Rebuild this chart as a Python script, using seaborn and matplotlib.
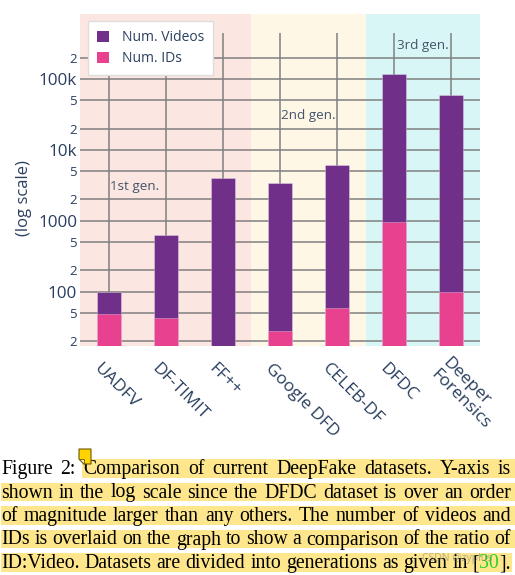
import numpy as np
import pandas as pd
import matplotlib
matplotlib.use("Agg")
import matplotlib.pyplot as plt
import matplotlib.transforms as mtransforms
from matplotlib.patches import Patch, Rectangle, Polygon
from matplotlib.font_manager import FontProperties
import seaborn as sns

# values (log scale)
datasets = ["UADFV", "DF-TIMIT", "FF++", "Google DFD", "CELEB-DF", "DFDC", "Deeper\nForensics"]
num_videos = [98, 640, 4000, 3400, 6100, 119000, 60000]
num_ids = [49, 43, np.nan, 28, 59, 960, 100]

gen_names = ["1st gen.", "2nd gen.", "3rd gen."]
gen_first = [0, 3, 5]
gen_last = [2, 4, 6]
gen_label_x = [0.03, 3.01, 5.04]
gen_label_y = [3000, 31000, 293000]

major_ticks = [100, 1000, 10000, 100000]
major_labels = ["100", "1000", "10k", "100k"]
minor_ticks = [20, 50, 200, 500, 2000, 5000, 20000, 50000, 200000]
minor_labels = ["2", "5", "2", "5", "2", "5", "2", "5", "2"]

caption_lines = [
    "Figure 2: Comparison of current DeepFake datasets. Y-axis is",
    "shown in the log scale since the DFDC dataset is over an order",
    "of magnitude larger than any others. The number of videos and",
    "IDs is overlaid on the graph to show a comparison of the ratio of",
    "ID:Video. Datasets are divided into generations as given in [30].",
]

W, H = 515, 575
purple = "#70308a"
pink = "#e8418f"
gen_colors = ["#fce6e1", "#fff7e6", "#d9f6f6"]
tick_col = "#2a3f5f"
highlight = "#fde68c"

sns.set_theme(style="white")
plt.rcParams["font.family"] = ["Open Sans", "DejaVu Sans"]

fig = plt.figure(figsize=(W / 100, H / 100), dpi=100)
ax = fig.add_axes([80 / W, 229 / H, 400 / W, 313 / H])

df = pd.DataFrame({"dataset": datasets, "videos": num_videos, "ids": num_ids})

ax.set_yscale("log")
sns.barplot(data=df, x="dataset", y="videos", order=datasets, color=purple,
            saturation=1, width=0.42, errorbar=None, ax=ax,
            edgecolor=(1, 1, 1, 0.35), linewidth=0.6)
sns.barplot(data=df, x="dataset", y="ids", order=datasets, color=pink,
            saturation=1, width=0.42, errorbar=None, ax=ax,
            edgecolor=(1, 1, 1, 0.35), linewidth=0.6)

ax.set_xlim(-0.5, len(datasets) - 0.5)
ax.set_ylim(17.1, 446000)

# generation background bands (reach a bit above the plot area)
for lo, hi, col in zip(gen_first, gen_last, gen_colors):
    ax.axvspan(lo - 0.5, hi + 0.5, ymin=0, ymax=332 / 313, color=col, lw=0,
               zorder=0, clip_on=False)
for name, gx, gy in zip(gen_names, gen_label_x, gen_label_y):
    ax.text(gx, gy, name, fontsize=9.7, color="#44546a", ha="left", va="center", zorder=3)

ax.set_yticks(major_ticks, major_labels)
ax.set_yticks(minor_ticks, minor_labels, minor=True)
ax.grid(True, which="both", color=(0.5, 0.5, 0.5, 0.22), lw=1.1)
ax.set_axisbelow(True)
for s in ax.spines.values():
    s.set_visible(False)
ax.tick_params(axis="y", which="major", labelsize=12.3, pad=2, length=0, colors=tick_col)
ax.tick_params(axis="y", which="minor", labelsize=9.5, pad=2, length=0, colors=tick_col)
ax.tick_params(axis="x", length=0, pad=0)

ax.set_xticks(range(len(datasets)))
ax.set_xticklabels(datasets, rotation=-45, ha="left", va="center",
                   rotation_mode="anchor", fontsize=12.6, color=tick_col, linespacing=1.05)
shift = mtransforms.ScaledTranslation(-12 / 100, -20 / 100, fig.dpi_scale_trans)
for lab in ax.get_xticklabels():
    lab.set_transform(lab.get_transform() + shift)

ax.set_xlabel("")
ax.set_ylabel("(log scale)", fontsize=12, color=tick_col)
ax.yaxis.set_label_coords(-0.12, 0.473)

handles = [Patch(facecolor=purple, edgecolor="none"), Patch(facecolor=pink, edgecolor="none")]
leg = ax.legend(handles, ["Num. Videos", "Num. IDs"], loc="upper left",
                bbox_to_anchor=(0.02, 1.038), borderaxespad=0, fontsize=10,
                frameon=True, fancybox=False, edgecolor="#dddddd", facecolor="white",
                framealpha=1, handlelength=0.85, handleheight=0.85,
                handletextpad=0.95, labelspacing=0.45, borderpad=0.65)
leg.get_frame().set_linewidth(1.0)
for t in leg.get_texts():
    t.set_color(tick_col)

# caption below the chart, justified like the paper
renderer = fig.canvas.get_renderer()


def text_w(s, fp):
    return renderer.get_text_width_height_descent(s, fp, ismath=False)[0]


fp10 = FontProperties(family="Liberation Serif", size=10)
space10 = text_w("a a", fp10) - text_w("aa", fp10)
natural = [sum(text_w(w, fp10) for w in ln.split()) + space10 * (len(ln.split()) - 1)
           for ln in caption_lines[:-1]]
fs = 10 * 512 / max(natural)
fp = FontProperties(family="Liberation Serif", size=fs)
space = text_w("a a", fp) - text_w("aa", fp)

baselines = [474, 497.5, 521, 544.5, 568]
x_left, x_right = 1, 511


def put(x, base, s, color="black"):
    fig.text(x / W, 1 - base / H, s, fontproperties=fp, color=color,
             ha="left", va="baseline", zorder=3)
    return text_w(s, fp)


for i, (ln, base) in enumerate(zip(caption_lines, baselines)):
    words = ln.split()
    widths = [text_w(w, fp) for w in words]
    last = i == len(caption_lines) - 1
    gap = space if last else (x_right - x_left - sum(widths)) / (len(words) - 1)
    x = x_left
    hl_start = x_left
    for j, w in enumerate(words):
        if i == 0 and w == "Comparison":
            hl_start = x - 1.5
        if w.startswith("["):
            x += put(x, base, "[")
            x += put(x, base, w[1:w.index("]")], color="#2ccf2c")
            x += put(x, base, w[w.index("]"):])
        else:
            x += put(x, base, w)
        if j < len(words) - 1:
            x += gap
    hl_end = x + 1 if last else W
    fig.add_artist(Rectangle((hl_start / W, 1 - (base + 3.5) / H), (hl_end - hl_start) / W,
                             18.5 / H, transform=fig.transFigure, color=highlight,
                             lw=0, zorder=1))

# little sticky-note icon before "Comparison"
note = [(79, 449), (91, 449), (91, 464), (84, 464), (79, 459)]
fig.add_artist(Polygon([(px / W, 1 - py / H) for px, py in note], closed=True,
                       transform=fig.transFigure, facecolor="#ffd200",
                       edgecolor="#6b5a00", lw=0.8, zorder=4))
fold = [(79, 459), (84, 459), (84, 464)]
fig.add_artist(Polygon([(px / W, 1 - py / H) for px, py in fold], closed=True,
                       transform=fig.transFigure, facecolor="#f5eec0",
                       edgecolor="#6b5a00", lw=0.6, zorder=4))

# faint watermark sitting over the last caption line, as in the source image
fig.text(422 / W, 1 - 561 / H, "CSDN @zyplus", fontsize=7.5,
         color=(0.45, 0.45, 0.45, 0.5), ha="left", va="baseline", zorder=5)

fig.savefig("out.png", dpi=100, facecolor="white")
